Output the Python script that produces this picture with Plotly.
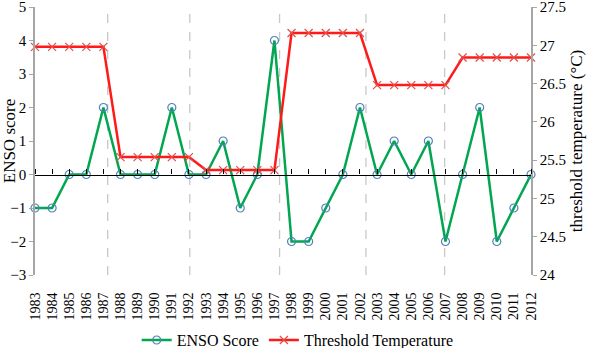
import plotly.graph_objects as go

years = list(range(1983, 2013))
enso_score = [-1, -1, 0, 0, 2, 0, 0, 0, 2, 0, 0, 1, -1, 0, 4, -2, -2, -1, 0, 2,
              0, 1, 0, 1, -2, 0, 2, -2, -1, 0]
threshold_temp = [26.98, 26.98, 26.98, 26.98, 26.98,
                  25.54, 25.54, 25.54, 25.54, 25.54,
                  25.37, 25.37, 25.37, 25.37, 25.37,
                  27.16, 27.16, 27.16, 27.16, 27.16,
                  26.48, 26.48, 26.48, 26.48, 26.48,
                  26.84, 26.84, 26.84, 26.84, 26.84]
period_breaks = [1987.25, 1992.05, 1997.3, 2002.35, 2006.95]
left_ticks = [-3, -2, -1, 0, 1, 2, 3, 4, 5]
right_ticks = [24, 24.5, 25, 25.5, 26, 26.5, 27, 27.5]

FONT = "Liberation Serif"
GREEN = "#00a650"
RED = "#ff1a1a"

fig = go.Figure()
fig.add_trace(go.Scatter(
    x=years, y=enso_score, name="ENSO Score", mode="lines+markers",
    line=dict(color=GREEN, width=2.5),
    marker=dict(symbol="circle-open", size=8, color="#4f81bd", line=dict(width=1.2)),
    cliponaxis=False, yaxis="y"))
fig.add_trace(go.Scatter(
    x=years, y=threshold_temp, name="Threshold Temperature", mode="lines+markers",
    line=dict(color=RED, width=2.5),
    marker=dict(symbol="x-thin-open", size=8, color="#e0504a", line=dict(width=1.2, color="#e0504a")),
    cliponaxis=False, yaxis="y2"))
fig.add_trace(go.Scatter(x=[1983], y=[0], xaxis="x2", yaxis="y", mode="markers",
                         marker=dict(opacity=0), showlegend=False, hoverinfo="skip"))

for xb in period_breaks:
    fig.add_shape(type="line", xref="x", yref="paper", x0=xb, x1=xb, y0=0, y1=1,
                  line=dict(color="#c8c8c8", width=1.3, dash="dash"), layer="below")

fig.update_layout(
    width=590, height=348,
    margin=dict(l=35, r=59, t=7, b=73, autoexpand=False),
    paper_bgcolor="white", plot_bgcolor="white",
    font=dict(family=FONT, size=15, color="#000"),
    showlegend=True,
    legend=dict(orientation="h", x=0.205, xanchor="left", y=-0.243, yanchor="middle",
                font=dict(size=16), bgcolor="rgba(0,0,0,0)"),
    xaxis=dict(range=[1983, 2012], tickmode="array", tickvals=years,
               ticktext=[str(y) for y in years], tickangle=-90, tickfont=dict(size=14),
               showline=False, showgrid=False, zeroline=False, automargin=False,
               ticks="outside", ticklen=11, tickcolor="rgba(0,0,0,0)",
               ticklabeloverflow="allow"),
    xaxis2=dict(range=[1983, 2012], overlaying="x", anchor="free", position=0.375,
                side="top", showline=True, linecolor="#000", linewidth=1.2,
                tickmode="array", tickvals=years, ticks="outside", ticklen=5,
                tickcolor="#000", showticklabels=False, showgrid=False, zeroline=False,
                automargin=False),
    yaxis=dict(range=[-3, 5], tickvals=left_ticks, tickfont=dict(size=15),
               showline=True, linecolor="#a6a6a6", linewidth=1.5,
               ticks="outside", ticklen=4, tickcolor="#a6a6a6",
               showgrid=False, zeroline=False, automargin=False,
               ticklabeloverflow="allow",
               title=dict(text="ENSO score", font=dict(size=17), standoff=1)),
    yaxis2=dict(range=[24, 27.5], tickvals=right_ticks, overlaying="y", side="right",
                tickfont=dict(size=15), showline=True, linecolor="#a6a6a6", linewidth=1.5,
                ticks="outside", ticklen=4, tickcolor="#a6a6a6",
                showgrid=False, zeroline=False, automargin=False,
                ticklabeloverflow="allow",
                title=dict(text="threshold temperature (°C)", font=dict(size=17), standoff=5)),
)

fig.write_html("out.html", config={"displayModeBar": False},
               post_script="document.body.style.margin='0';")
